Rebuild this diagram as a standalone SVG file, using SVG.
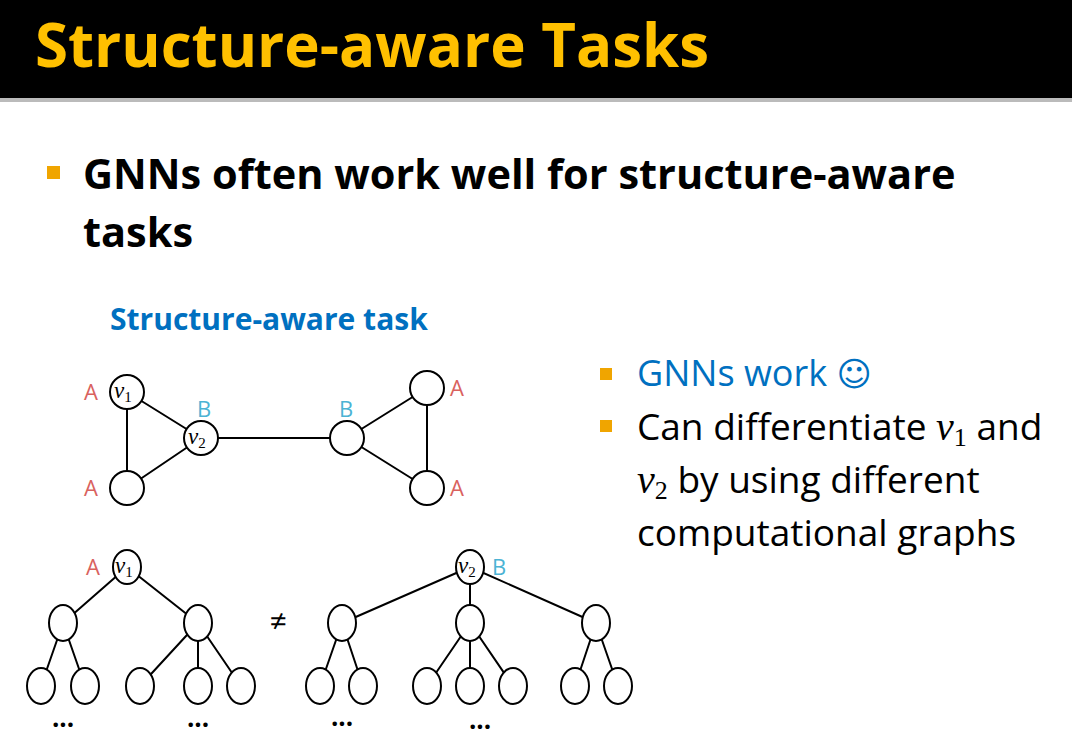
<svg xmlns="http://www.w3.org/2000/svg" width="1072" height="741" viewBox="0 0 1072 741">
<style>
.n{fill:#fff;stroke:#000;stroke-width:2}
.e{stroke:#000;stroke-width:2;fill:none}
.t{font-family:"Open Sans","Liberation Sans",sans-serif}
.m{font-family:"Liberation Serif",serif;font-style:italic;font-size:23px}
.s{font-size:15px;font-style:normal}
.A{fill:#d9625e;font-family:"Open Sans",sans-serif;font-size:22px}
.B{fill:#4bb3d4;font-family:"Open Sans",sans-serif;font-size:22px}
</style>
<rect width="1072" height="741" fill="#fff"/>
<rect width="1072" height="98" fill="#000"/>
<rect y="98" width="1072" height="4" fill="#bbb"/>
<text x="35" y="67" class="t" font-size="60" font-weight="bold" fill="#ffc000">Structure-aware Tasks</text>
<rect x="47" y="166" width="13" height="13" fill="#f0a500"/>
<text x="83" y="189" class="t" font-size="41.5" font-weight="bold">GNNs often work well for structure-aware</text>
<text x="83" y="247" class="t" font-size="41.5" font-weight="bold">tasks</text>
<text x="110" y="330" class="t" font-size="30" font-weight="bold" fill="#0070c0">Structure-aware task</text>
<rect x="600" y="368" width="12" height="12" fill="#f0a500"/>
<text x="637" y="386" class="t" font-size="36" fill="#0070c0">GNNs work <tspan font-family="DejaVu Sans" font-size="34">☺</tspan></text>
<rect x="600" y="420" width="12" height="12" fill="#f0a500"/>
<text x="637" y="440" class="t" font-size="37">Can differentiate <tspan font-family="Liberation Serif" font-style="italic" font-size="40">v</tspan><tspan font-family="Liberation Serif" font-size="26" dy="6">1</tspan><tspan dy="-6"> and</tspan></text>
<text x="637" y="493" class="t" font-size="37"><tspan font-family="Liberation Serif" font-style="italic" font-size="40">v</tspan><tspan font-family="Liberation Serif" font-size="26" dy="6">2</tspan><tspan dy="-6"> by using different</tspan></text>
<text x="637" y="546" class="t" font-size="37">computational graphs</text>
<g id="connectors">
<path class="e" d="M127 392V488M127 392L201 438M127 488L201 438M201 438H347M347 438L427 388M347 438L427 488M427 388V488"/>
<path class="e" d="M127 567L63 623M127 567L198 623M63 623L41 686M63 623L85 686M198 623L140 686M198 623V686M198 623L241 686"/>
<path class="e" d="M470 567L342 623M470 567V623M470 567L596 623M342 623L320 686M342 623L363 686M470 623L427 686M470 623V686M470 623L513 686M596 623L575 686M596 623L618 686"/>
</g>
<g id="top-graph">
<g id="g1"><circle class="n" cx="127" cy="392" r="17"/><text x="114" y="398" class="m">v<tspan class="s" dy="4">1</tspan></text></g>
<g id="g2"><circle class="n" cx="127" cy="488" r="17"/></g>
<g id="g3"><circle class="n" cx="201" cy="438" r="17"/><text x="188" y="444" class="m">v<tspan class="s" dy="4">2</tspan></text></g>
<g id="g4"><circle class="n" cx="347" cy="438" r="17"/></g>
<g id="g5"><circle class="n" cx="427" cy="388" r="17"/></g>
<g id="g6"><circle class="n" cx="427" cy="488" r="17"/></g>
<text x="84" y="400" class="A">A</text><text x="84" y="496" class="A">A</text>
<text x="197" y="417" class="B">B</text><text x="339" y="417" class="B">B</text>
<text x="450" y="396" class="A">A</text><text x="450" y="496" class="A">A</text>
</g>
<g id="tree1">
<g id="t1r"><ellipse class="n" cx="127" cy="567" rx="14" ry="17"/><text x="115" y="573" class="m">v<tspan class="s" dy="4">1</tspan></text></g>
<text x="86" y="575" class="A">A</text>
<ellipse class="n" cx="63" cy="623" rx="14" ry="18"/>
<ellipse class="n" cx="198" cy="623" rx="14" ry="18"/>
<ellipse class="n" cx="41" cy="686" rx="14" ry="18"/>
<ellipse class="n" cx="85" cy="686" rx="14" ry="18"/>
<ellipse class="n" cx="140" cy="686" rx="14" ry="18"/>
<ellipse class="n" cx="198" cy="686" rx="14" ry="18"/>
<ellipse class="n" cx="241" cy="686" rx="14" ry="18"/>
<text x="63" y="727" class="t" font-size="26" font-weight="bold" text-anchor="middle">...</text>
<text x="198" y="727" class="t" font-size="26" font-weight="bold" text-anchor="middle">...</text>
</g>
<text x="278" y="632" class="t" font-size="30" text-anchor="middle">≠</text>
<g id="tree2">
<g id="t2r"><ellipse class="n" cx="470" cy="567" rx="14" ry="17"/><text x="458" y="573" class="m">v<tspan class="s" dy="4">2</tspan></text></g>
<text x="492" y="575" class="B">B</text>
<ellipse class="n" cx="342" cy="623" rx="14" ry="18"/>
<ellipse class="n" cx="470" cy="623" rx="14" ry="18"/>
<ellipse class="n" cx="596" cy="623" rx="14" ry="18"/>
<ellipse class="n" cx="320" cy="686" rx="14" ry="18"/>
<ellipse class="n" cx="363" cy="686" rx="14" ry="18"/>
<ellipse class="n" cx="427" cy="686" rx="14" ry="18"/>
<ellipse class="n" cx="470" cy="686" rx="14" ry="18"/>
<ellipse class="n" cx="513" cy="686" rx="14" ry="18"/>
<ellipse class="n" cx="575" cy="686" rx="14" ry="18"/>
<ellipse class="n" cx="618" cy="686" rx="14" ry="18"/>
<text x="342" y="726" class="t" font-size="26" font-weight="bold" text-anchor="middle">...</text>
<text x="480" y="729" class="t" font-size="26" font-weight="bold" text-anchor="middle">...</text>
</g>
</svg>
